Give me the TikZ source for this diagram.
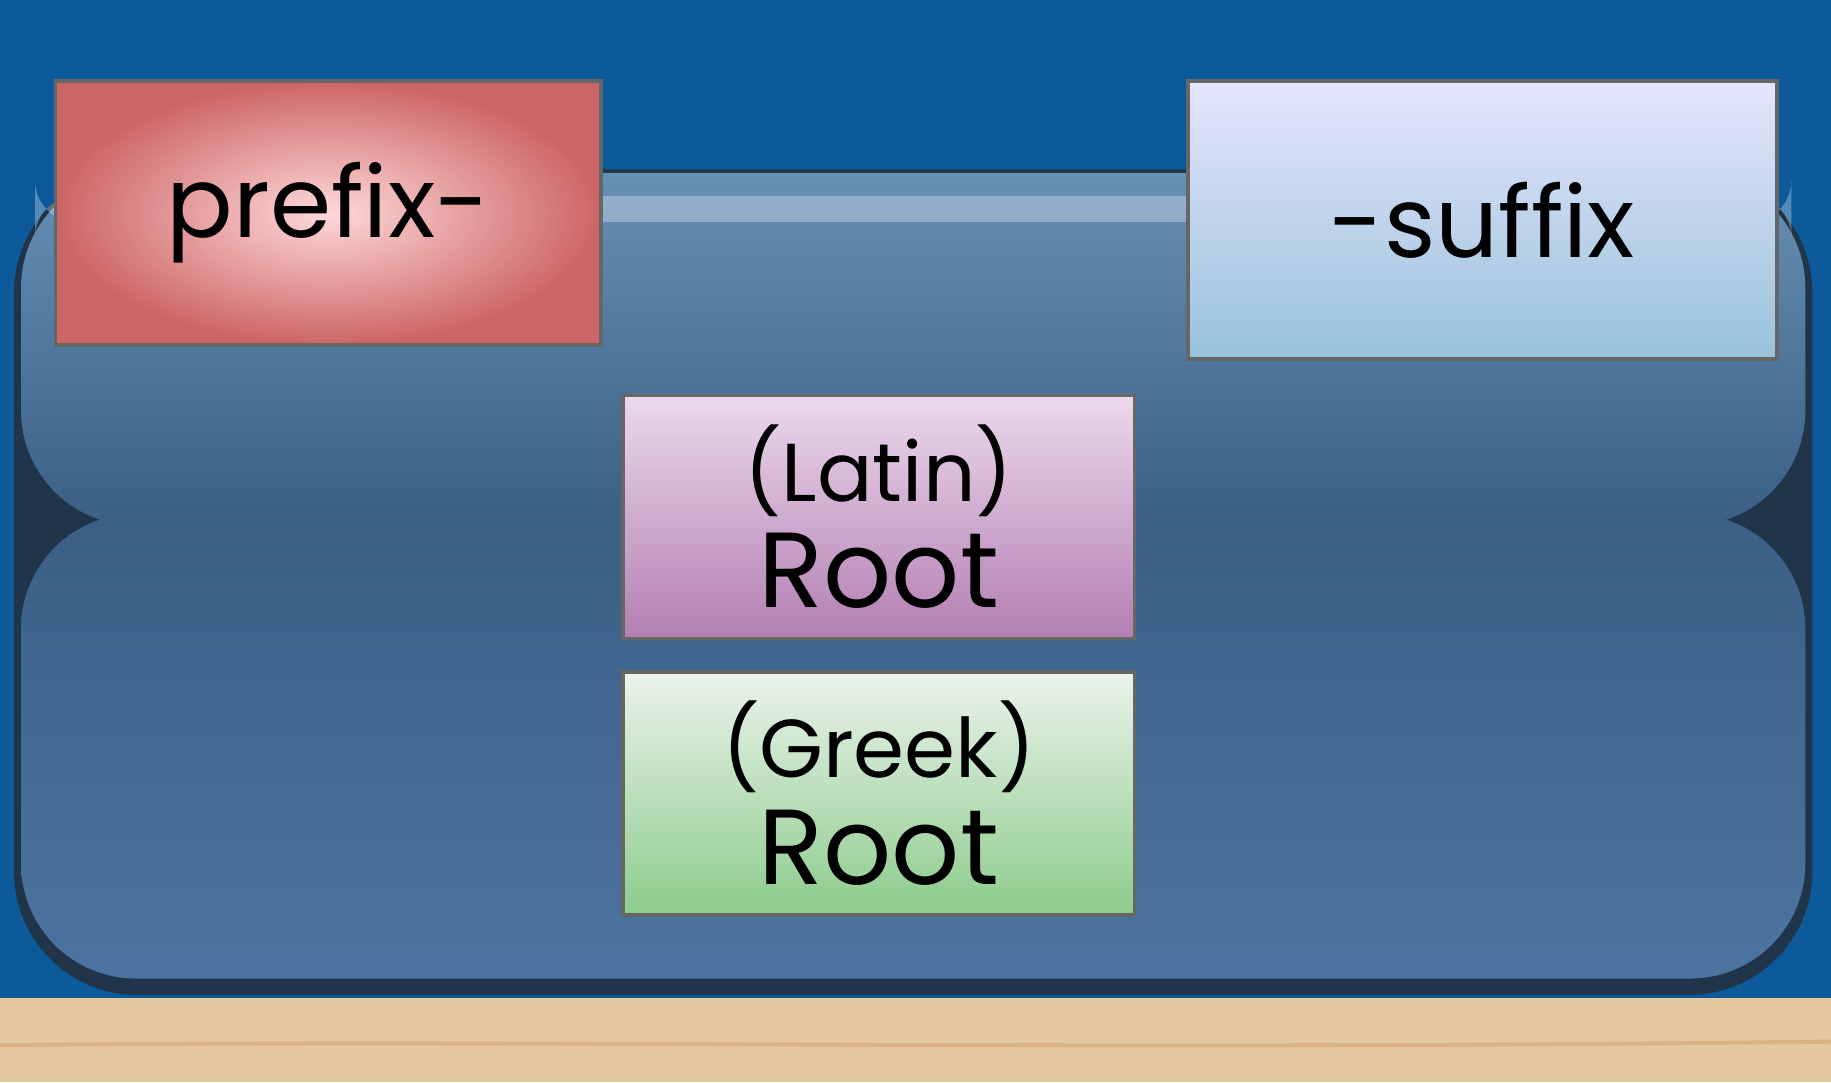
\documentclass[tikz,border=0pt]{standalone}
\usepackage{fontspec}
\setmainfont{Poppins}
\usetikzlibrary{shadings}
\definecolor{bgblue}{HTML}{0C5A9A}
\definecolor{panelTop}{HTML}{6790B5}
\definecolor{panelMid}{HTML}{3B5F86}
\definecolor{panelBot}{HTML}{4D74A0}
\definecolor{wood}{HTML}{E6C8A0}
\tikzset{
  card/.style={draw=black!60, line width=0.8pt, minimum width=#1, inner sep=0pt, align=center},
  card/.default=4.38cm
}
\begin{document}
\begin{tikzpicture}[x=0.01cm, y=-0.01cm]
    \fill[bgblue] (0,0) rectangle (1568,927);
    \useasboundingbox (0,0) rectangle (1568,927);
    % panel
    \fill[black!45!panelMid, rounded corners=30] (12,145) rectangle (1552,852);
    \shade[rounded corners=28, top color=panelTop, bottom color=panelMid] (18,148) rectangle (1546,450);
    \shade[rounded corners=28, top color=panelMid, bottom color=panelBot] (18,440) rectangle (1546,838);
    \fill[white, opacity=0.3, rounded corners=10] (30,168) rectangle (1534,190);
    % floor
    \fill[wood] (0,855) rectangle (1568,927);
    \draw[wood!70!brown, line width=1pt] (0,895) .. controls (500,890) and (900,900) .. (1568,892);

    \node[card=4.67cm, minimum height=2.26cm, inner color=red!15!white, outer color=red!45!white!90!red!80!black, anchor=north west, font=\fontsize{24}{28}\selectfont] (prefix) at (46,68) {prefix-};
    \node[card=5.04cm, minimum height=2.38cm, top color=blue!10!white, bottom color=blue!35!cyan!30!white!85!black, anchor=north west, font=\fontsize{24}{28}\selectfont] (suffix) at (1016,68) {-suffix};
    \node[card, minimum height=2.08cm, top color=violet!15!white, bottom color=violet!45!white!90!black, anchor=north west, font=\fontsize{20}{24}\selectfont] (latin) at (532,337) {(Latin)\\[2pt]{\fontsize{26}{30}\selectfont Root}};
    \node[card, minimum height=2.08cm, top color=green!40!black!8!white, bottom color=green!55!black!45!white, anchor=north west, font=\fontsize{20}{24}\selectfont] (greek) at (532,574) {(Greek)\\[2pt]{\fontsize{26}{30}\selectfont Root}};
\end{tikzpicture}
\end{document}
